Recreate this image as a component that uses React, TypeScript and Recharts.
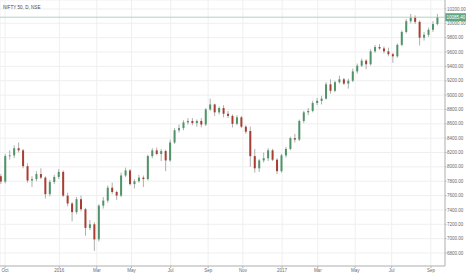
import { Bar, CartesianGrid, ComposedChart, ReferenceLine, XAxis, YAxis } from 'recharts';

// one candle per 5 trading days, x = trading-day index from 1 Oct 2015
const bars = [
  -5, 0, 5, 10, 15, 20, 25, 30, 35, 40, 45, 50, 55, 60, 65, 70, 75, 80, 85, 90,
  95, 100, 105, 110, 115, 120, 125, 130, 135, 140, 145, 150, 155, 160, 165, 170, 175, 180, 185, 190,
  195, 200, 205, 210, 215, 220, 225, 230, 235, 240, 245, 250, 255, 260, 265, 270, 275, 280, 285, 290,
  295, 300, 305, 310, 315, 320, 325, 330, 335, 340, 345, 350, 355, 360, 365, 370, 375, 380, 385, 390,
  395, 400, 405, 410, 415, 420, 425, 430, 435, 440, 445, 450, 455, 460, 465, 470, 475, 480, 485,
];

const opens = [
  7870, 7795, 8150, 8160, 8260, 8230, 8010, 7810, 7830, 7900, 7850, 7620, 7790, 7860, 7930, 7600, 7490, 7370, 7550, 7410,
  7150, 7200, 6990, 7460, 7530, 7710, 7650, 7600, 7880, 7950, 7760, 7800, 7850, 7830, 8150, 8230, 8180, 8220, 8090, 8340,
  8510, 8540, 8620, 8640, 8610, 8640, 8590, 8800, 8870, 8760, 8820, 8740, 8710, 8600, 8690, 8560, 8500, 8150, 7980, 8090,
  8120, 8230, 8100, 7940, 8160, 8250, 8400, 8380, 8640, 8760, 8780, 8890, 8920, 8950, 9150, 9060, 9180, 9220, 9160, 9200,
  9330, 9410, 9480, 9430, 9610, 9670, 9650, 9610, 9570, 9540, 9700, 9880, 10030, 10080, 10020, 9800, 9840, 9910, 9990,
];

const highs = [
  7900, 8180, 8230, 8300, 8340, 8250, 8050, 7870, 7940, 7980, 7870, 7820, 7890, 7970, 7950, 7640, 7510, 7580, 7600, 7430,
  7260, 7230, 7480, 7580, 7740, 7780, 7670, 7920, 7990, 7970, 7830, 7890, 7880, 8170, 8260, 8270, 8250, 8240, 8380, 8540,
  8590, 8650, 8680, 8680, 8660, 8680, 8820, 8950, 8880, 8840, 8860, 8780, 8730, 8720, 8710, 8580, 8560, 8250, 8110, 8200,
  8260, 8250, 8120, 8180, 8280, 8420, 8460, 8660, 8780, 8820, 8920, 8960, 8990, 9180, 9220, 9200, 9270, 9240, 9230, 9370,
  9440, 9510, 9500, 9640, 9700, 9710, 9680, 9660, 9590, 9720, 9900, 10060, 10130, 10110, 10040, 9880, 9940, 10030, 10130,
];

const lows = [
  7760, 7770, 8100, 8120, 8200, 7980, 7780, 7720, 7800, 7830, 7560, 7590, 7760, 7830, 7580, 7450, 7240, 7340, 7380, 7040,
  7120, 6830, 6960, 7420, 7500, 7620, 7540, 7580, 7860, 7740, 7700, 7780, 7720, 7810, 8120, 8160, 8080, 7940, 8070, 8320,
  8480, 8510, 8590, 8580, 8560, 8550, 8570, 8780, 8710, 8730, 8690, 8680, 8550, 8580, 8540, 8460, 8000, 7920, 7930, 8060,
  8080, 8080, 7900, 7920, 8130, 8230, 8340, 8360, 8610, 8720, 8760, 8860, 8870, 8940, 9020, 9040, 9160, 9140, 9090, 9180,
  9300, 9390, 9360, 9410, 9590, 9630, 9580, 9540, 9450, 9520, 9680, 9860, 10000, 9990, 9690, 9760, 9810, 9880, 9970,
];

const closes = [
  7795, 8150, 8160, 8260, 8230, 8010, 7810, 7830, 7900, 7850, 7620, 7790, 7860, 7930, 7600, 7490, 7370, 7550, 7410, 7150,
  7200, 6990, 7460, 7530, 7710, 7650, 7600, 7880, 7950, 7760, 7800, 7850, 7830, 8150, 8230, 8180, 8220, 8090, 8340, 8510,
  8540, 8620, 8640, 8610, 8640, 8590, 8800, 8870, 8760, 8820, 8740, 8710, 8600, 8690, 8560, 8490, 8150, 7980, 8090, 8120,
  8230, 8100, 7940, 8160, 8250, 8400, 8380, 8640, 8760, 8780, 8890, 8920, 8950, 9150, 9060, 9180, 9220, 9160, 9200, 9330,
  9410, 9480, 9430, 9610, 9670, 9650, 9610, 9570, 9540, 9700, 9880, 10030, 10080, 10020, 9800, 9840, 9910, 9990, 10085.4,
];

const tickBars = [0, 61, 103, 142, 186, 228, 267, 311, 351, 393, 434, 478];
const tickLabels = ['Oct', '2016', 'Mar', 'May', 'Jul', 'Sep', 'Nov', '2017', 'Mar', 'May', 'Jul', 'Sep'];
const priceTicks = [
  6800, 7000, 7200, 7400, 7600, 7800, 8000, 8200, 8400, 8600, 8800, 9000, 9200, 9400, 9600, 9800, 10000, 10200,
];
const lastPrice = 10085.4;
const title = 'NIFTY 50, D, NSE';

const data = bars.map((bar, i) => ({
  bar,
  open: opens[i],
  high: highs[i],
  low: lows[i],
  close: closes[i],
}));

function Candle(props: any) {
  const { x, y, width, height, payload } = props;
  const { open, high, low, close } = payload;
  const top = Math.min(y, y + height);
  const h = Math.abs(height);
  const k = high === low ? 0 : h / (high - low);
  const cx = x + width / 2;
  const bodyTop = top + (high - Math.max(open, close)) * k;
  const bodyBottom = top + (high - Math.min(open, close)) * k;
  const fill = close >= open ? '#4f9469' : '#a83e32';
  return (
    <g>
      <line x1={cx} x2={cx} y1={top} y2={top + h} stroke="#9a9a9a" strokeWidth={0.8} />
      <rect x={cx - 1} y={bodyTop} width={2} height={Math.max(bodyBottom - bodyTop, 0.8)} fill={fill} />
    </g>
  );
}

function PriceTag(props: any) {
  const vb = props.viewBox;
  if (!vb) return null;
  const x = vb.x + vb.width;
  return (
    <g>
      <rect x={x} y={vb.y - 4} width={21} height={8} fill="#5fa982" />
      <text x={x + 1.6} y={vb.y + 1.6} fontSize={4.5} fill="#ffffff">
        {lastPrice.toFixed(2)}
      </text>
    </g>
  );
}

export default function App() {
  return (
    <div
      style={{
        position: 'absolute',
        left: 0,
        top: 0,
        width: 466,
        height: 275,
        background: '#fff',
        fontFamily: '"Liberation Sans", Arial, sans-serif',
      }}
    >
      <ComposedChart width={466} height={275} data={data} margin={{ top: 0, right: 0, bottom: 0, left: 0 }}>
        <CartesianGrid stroke="#efefef" />
        <XAxis
          dataKey="bar"
          type="number"
          domain={[-5.6, 493.8]}
          allowDataOverflow
          ticks={tickBars}
          interval={0}
          tickFormatter={(v: number) => tickLabels[tickBars.indexOf(v)]}
          height={9}
          tickSize={2}
          tickMargin={1}
          tick={{ fontSize: 4.5, fill: '#6a6a6a' }}
          axisLine={{ stroke: '#b5b5b5' }}
          tickLine={{ stroke: '#b5b5b5' }}
        />
        <YAxis
          orientation="right"
          domain={[6619, 10325]}
          allowDataOverflow
          ticks={priceTicks}
          interval={0}
          width={21}
          tickSize={1.5}
          tickMargin={0.5}
          tickFormatter={(v: number) => v.toFixed(2)}
          tick={{ fontSize: 4.5, fill: '#6a6a6a' }}
          axisLine={{ stroke: '#b5b5b5' }}
          tickLine={{ stroke: '#b5b5b5' }}
        />
        <ReferenceLine y={lastPrice} stroke="#9cc9b0" strokeWidth={0.8} label={PriceTag} />
        <Bar
          dataKey={(d: any) => [d.low, d.high]}
          barSize={3}
          shape={<Candle />}
          isAnimationActive={false}
        />
      </ComposedChart>
      <svg width={466} height={20} style={{ position: 'absolute', left: 0, top: 0, pointerEvents: 'none' }}>
        <text x={3} y={9} fontSize={4.6} fill="#4a4a4a">
          {title}
        </text>
      </svg>
    </div>
  );
}
